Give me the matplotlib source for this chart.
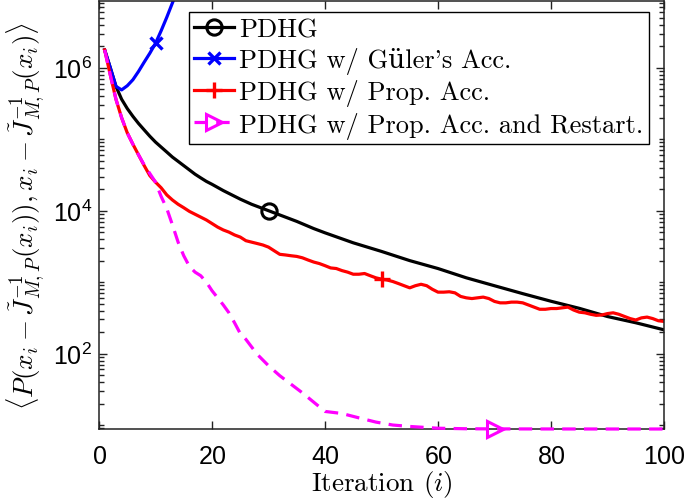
import matplotlib
matplotlib.use("Agg")
import matplotlib.pyplot as plt
from matplotlib.ticker import FixedLocator, LogLocator, NullFormatter, FixedFormatter

# ---------------- data ----------------
it_pdhg = [1, 2, 3, 4, 5, 6, 7, 8, 9, 10, 11, 12, 13, 14, 15, 16, 17, 18, 19,
           20, 22, 25, 27, 30, 32, 35, 38, 40, 45, 50, 55, 60, 65, 70, 75, 80,
           85, 90, 95, 100]
val_pdhg = [1.78e6, 1.0e6, 5.5e5, 3.63e5, 2.69e5, 2.09e5, 1.66e5, 1.35e5,
            1.10e5, 9.12e4, 7.76e4, 6.61e4, 5.62e4, 4.90e4, 4.27e4, 3.72e4,
            3.24e4, 2.88e4, 2.57e4, 2.34e4, 1.91e4, 1.45e4, 1.23e4, 1.0e4,
            8710, 7080, 5620, 4900, 3550, 2690, 2000, 1550, 1150, 890, 690,
            540, 430, 330, 270, 215]

it_guler = [1, 2, 3, 4, 5, 6, 7, 8, 9, 10, 11, 12, 13, 14, 15]
val_guler = [1.78e6, 1.0e6, 5.5e5, 4.9e5, 5.6e5, 6.8e5, 8.9e5, 1.2e6, 1.6e6,
             2.2e6, 3.3e6, 5.1e6, 8.1e6, 1.3e7, 2.2e7]

it_prop = list(range(1, 101))
val_prop = [1.78e6, 7.94e5, 3.63e5, 2.0e5, 1.23e5, 8.51e4, 6.03e4, 4.27e4,
            3.09e4, 2.51e4, 2.09e4, 1.66e4, 1.41e4, 1.23e4, 1.10e4, 9770,
            8910, 8130, 7410, 6610, 5890, 5370, 5010, 4570, 4270, 3800, 3630,
            3470, 3310, 3090, 2750, 2450, 2400, 2340, 2290, 2190, 2040, 1910,
            1820, 1700, 1580, 1550, 1450, 1380, 1290, 1290, 1320, 1230, 1150,
            1100, 1070, 1020, 955, 891, 832, 891, 933, 891, 794, 724, 724,
            733, 708, 631, 603, 589, 603, 617, 589, 537, 513, 513, 525, 525,
            513, 479, 447, 417, 417, 427, 427, 437, 447, 407, 380, 372, 355,
            343, 347, 363, 372, 355, 331, 309, 295, 316, 324, 309, 288, 282]

it_restart = [1, 2, 3, 4, 5, 6, 7, 8, 9, 10, 11, 12, 13, 14, 15, 16, 17, 18,
              19, 20, 21, 22, 23, 24, 25, 26, 28, 30, 32, 34, 36, 38, 40, 43,
              46, 49, 52, 55, 60, 65, 70, 80, 90, 100]
val_restart = [1.78e6, 7.94e5, 3.63e5, 2.0e5, 1.23e5, 8.51e4, 6.03e4, 4.37e4,
               3.31e4, 2.51e4, 1.58e4, 1.07e4, 6310, 3630, 2340, 1660, 1380,
               1230, 1000, 759, 603, 479, 372, 269, 191, 158, 97.7, 67.6, 49.0,
               37.2, 28.2, 20.9, 15.5, 14.5, 12.6, 11.0, 10.0, 9.55, 9.02,
               8.87, 8.83, 8.81, 8.8, 8.8]

labels = ["PDHG", "PDHG w/ Güler's Acc.", "PDHG w/ Prop. Acc.",
          "PDHG w/ Prop. Acc. and Restart."]
x_ticks = [0, 20, 40, 60, 80, 100]
y_ticks = [1e2, 1e4, 1e6]
y_ticklabels = [r"$10^{2}$", r"$10^{4}$", r"$10^{6}$"]

# ---------------- style ----------------
plt.rcParams["mathtext.fontset"] = "custom"
plt.rcParams["mathtext.rm"] = "Liberation Sans"
plt.rcParams["mathtext.it"] = "Liberation Sans:italic"
plt.rcParams["axes.formatter.use_mathtext"] = True

fig = plt.figure(figsize=(6.85, 5.02), dpi=100)
ax = fig.add_axes([99 / 685, 72 / 502, 565 / 685, 428 / 502])

lw = 2.3
ax.plot(it_pdhg, val_pdhg, color="black", lw=lw, marker="o", ms=11,
        mfc="none", mew=2.2, markevery=[it_pdhg.index(30)], label=labels[0])
ax.plot(it_guler, val_guler, color="#0000ff", lw=lw, marker="x", ms=9,
        mew=2.4, markevery=[it_guler.index(10)], label=labels[1])
ax.plot(it_prop, val_prop, color="#ff0000", lw=lw, marker="+", ms=12,
        mew=2.4, markevery=[it_prop.index(50)], label=labels[2])
ax.plot(it_restart, val_restart, color="#ff00ff", lw=lw, ls=(0, (4.2, 2.6)),
        marker=">", ms=11, mfc="none", mew=2.2,
        markevery=[it_restart.index(70)], label=labels[3], clip_on=False,
        zorder=5)

ax.set_yscale("log")
ax.set_xlim(0, 100)
ax.set_ylim(8.8, 8.6e6)

ax.xaxis.set_major_locator(FixedLocator(x_ticks))
ax.yaxis.set_major_locator(FixedLocator(y_ticks))
ax.yaxis.set_major_formatter(FixedFormatter(y_ticklabels))
ax.yaxis.set_minor_locator(LogLocator(base=10, subs=range(1, 10), numticks=50))
ax.yaxis.set_minor_formatter(NullFormatter())

ax.tick_params(which="both", direction="in", top=True, right=True,
               width=1.0, color="#222222")
ax.tick_params(which="major", length=6)
ax.tick_params(which="minor", length=3.5)
ax.tick_params(axis="x", which="major", pad=11, labelsize=18)
ax.tick_params(axis="y", which="major", pad=5, labelsize=18)
for t in ax.get_xticklabels() + ax.get_yticklabels():
    t.set_fontfamily("Liberation Sans")
for s in ax.spines.values():
    s.set_linewidth(1.1)
    s.set_color("#222222")

ax.set_xlabel(r"Iteration $(i)$", fontsize=19.5, family=["cmr10", "DejaVu Serif"],
              labelpad=0)
ax.xaxis.label.set_math_fontfamily("cm")
ax.set_ylabel(r"$\langle P(x_i - \tilde{J}_{M,P}^{-1}(x_i)), x_i - \tilde{J}_{M,P}^{-1}(x_i)\rangle$",
              fontsize=19.5, labelpad=4)
ax.yaxis.label.set_math_fontfamily("cm")

leg = ax.legend(loc="upper right", bbox_to_anchor=(0.974, 0.974),
                borderaxespad=0, fancybox=False, framealpha=1,
                edgecolor="black", handlelength=1.5, handletextpad=0.2,
                labelspacing=0.2, borderpad=0.22,
                prop={"family": ["cmr10", "DejaVu Serif"], "size": 19})
leg.get_frame().set_linewidth(1.0)

fig.savefig("out.png", dpi=100)
